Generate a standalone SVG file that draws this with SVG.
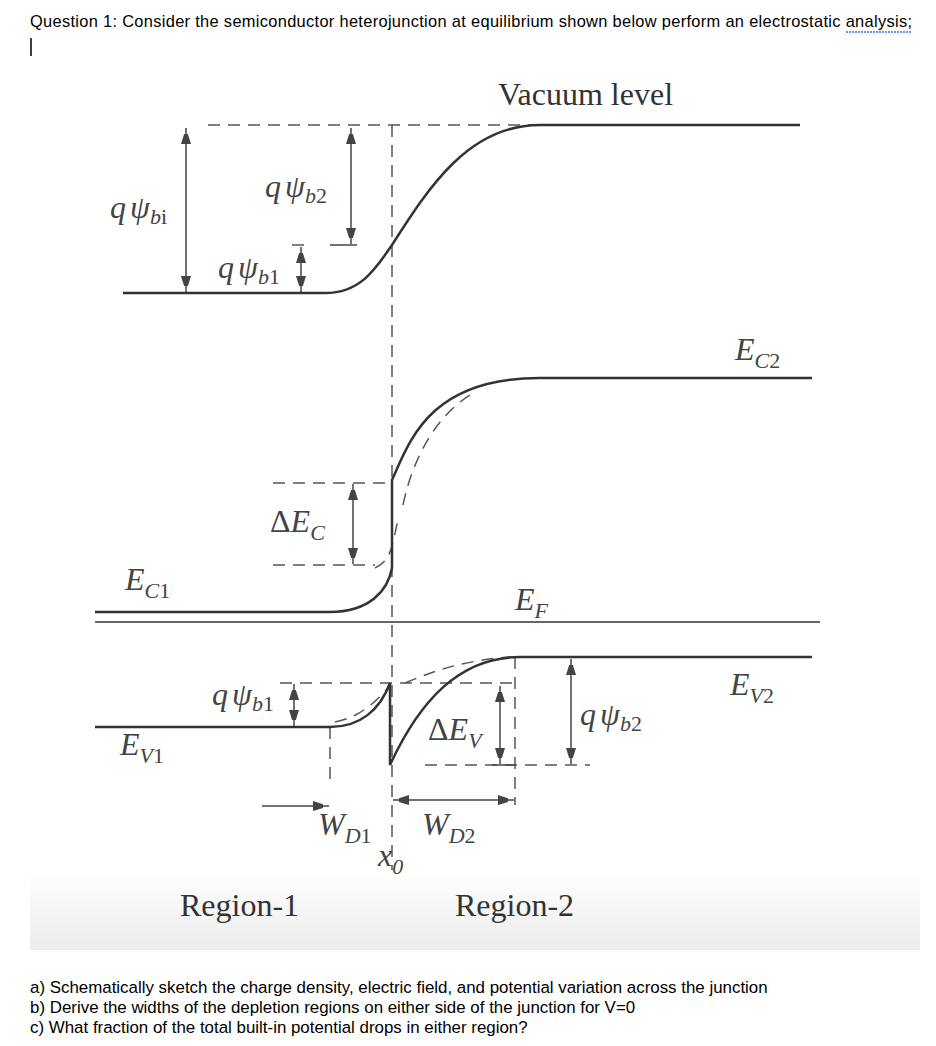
<svg xmlns="http://www.w3.org/2000/svg" width="936" height="1046" viewBox="0 0 936 1046">
<defs>
<marker id="ah" viewBox="0 0 10 16" refX="16" refY="5" markerWidth="10" markerHeight="16" orient="auto-start-reverse" markerUnits="userSpaceOnUse"><path d="M0,0 L16,5 L0,10 z" fill="#444"/></marker>
<linearGradient id="fade" x1="0" y1="0" x2="0" y2="1"><stop offset="0" stop-color="#fff"/><stop offset="1" stop-color="#ececec"/></linearGradient>
<style>
.band{fill:none;stroke:#333;stroke-width:2.5}
.dash{fill:none;stroke:#555;stroke-width:1.5;stroke-dasharray:12 8}
.arr{fill:none;stroke:#444;stroke-width:1.5}
.m{font-family:"Liberation Serif",serif;font-style:italic;fill:#444;font-size:32px}
.s{font-family:"Liberation Serif",serif;font-style:italic;fill:#444;font-size:22px}
.r{font-family:"Liberation Serif",serif;fill:#333;font-size:32px}
.q{font-family:"Liberation Sans",Arial,sans-serif;fill:#000;font-size:16.4px}
.b{font-family:"Liberation Sans",Arial,sans-serif;fill:#000;font-size:16.9px}
</style>
</defs>
<rect width="936" height="1046" fill="#fff"/>
<rect x="30" y="870" width="890" height="80" fill="url(#fade)"/>
<text class="q" x="30" y="27" textLength="882">Question 1: Consider the semiconductor heterojunction at equilibrium shown below perform an electrostatic analysis;</text>
<line x1="846" y1="32" x2="912" y2="32" stroke="#3b6fd8" stroke-width="1.5" stroke-dasharray="2 1"/>
<line x1="31" y1="38" x2="31" y2="56" stroke="#000" stroke-width="1.5"/>

<g id="guides">
<path class="dash" d="M392,125 V870"/>
<path class="dash" d="M208,125 H540"/>
<path class="dash" d="M292,245 H312"/>
<path class="dash" d="M273,483 H392 M273,565 H375"/>
<path class="dash" d="M280,683 H515 M425,765 H590"/>
<path class="dash" d="M330,727 V780 M515,657 V805"/>
<path class="dash" d="M375,568 C392,560 392,545 398,520 M403,505 C410,470 430,420 470,395" />
<path class="dash" d="M335,722 C355,718 370,708 386,690 M405,683 C440,668 470,660 510,657"/>
</g>

<g id="bands">
<path class="band" d="M123,293 H325 C360,293 375,270 392,245 C430,185 470,125 540,125 H800"/>
<path class="band" d="M95,612 H330 C370,612 388,590 392,568 V480 C410,440 430,378 540,378 H812"/>
<line x1="95" y1="622" x2="820" y2="622" stroke="#666" stroke-width="2"/>
<path class="band" d="M95,727 H330 C360,727 380,710 390,683 V765 C420,700 460,657 520,657 H812"/>
</g>

<g id="arrows">
<line class="arr" x1="186" y1="128" x2="186" y2="292" marker-start="url(#ah)" marker-end="url(#ah)"/>
<line class="arr" x1="351" y1="128" x2="351" y2="244" marker-start="url(#ah)" marker-end="url(#ah)"/>
<line class="arr" x1="330" y1="245" x2="357" y2="245"/>
<line class="arr" x1="301" y1="247" x2="301" y2="292" marker-start="url(#ah)" marker-end="url(#ah)"/>
<line class="arr" x1="353" y1="484" x2="353" y2="564" marker-start="url(#ah)" marker-end="url(#ah)"/>
<line class="arr" x1="294" y1="684" x2="294" y2="726" marker-start="url(#ah)" marker-end="url(#ah)"/>
<line class="arr" x1="500" y1="686" x2="500" y2="764" marker-start="url(#ah)" marker-end="url(#ah)"/>
<line class="arr" x1="492" y1="765" x2="515" y2="765"/>
<line class="arr" x1="571" y1="659" x2="571" y2="764" marker-start="url(#ah)" marker-end="url(#ah)"/>
<line class="arr" x1="262" y1="806" x2="329" y2="806" marker-end="url(#ah)"/>
<line class="arr" x1="393" y1="800" x2="514" y2="800" marker-start="url(#ah)" marker-end="url(#ah)"/>
</g>

<g id="labels">
<text class="r" x="498" y="105" font-size="36">Vacuum level</text>
<text class="m" x="110" y="218">q<tspan dx="4">ψ</tspan><tspan class="s" dy="6">b<tspan font-style="normal">i</tspan></tspan></text>
<text class="m" x="265" y="197">q<tspan dx="4">ψ</tspan><tspan class="s" dy="6">b<tspan font-style="normal">2</tspan></tspan></text>
<text class="m" x="218" y="278">q<tspan dx="4">ψ</tspan><tspan class="s" dy="6">b<tspan font-style="normal">1</tspan></tspan></text>
<text class="m" x="270" y="532"><tspan font-style="normal">Δ</tspan>E<tspan class="s" dy="8">C</tspan></text>
<text class="m" x="125" y="590">E<tspan class="s" dy="8">C<tspan font-style="normal">1</tspan></tspan></text>
<text class="m" x="515" y="610">E<tspan class="s" dy="8">F</tspan></text>
<text class="m" x="735" y="360">E<tspan class="s" dy="8">C<tspan font-style="normal">2</tspan></tspan></text>
<text class="m" x="212" y="705">q<tspan dx="4">ψ</tspan><tspan class="s" dy="6">b<tspan font-style="normal">1</tspan></tspan></text>
<text class="m" x="120" y="755">E<tspan class="s" dy="8">V<tspan font-style="normal">1</tspan></tspan></text>
<text class="m" x="428" y="740"><tspan font-style="normal">Δ</tspan>E<tspan class="s" dy="8">V</tspan></text>
<text class="m" x="580" y="725">q<tspan dx="4">ψ</tspan><tspan class="s" dy="6">b<tspan font-style="normal">2</tspan></tspan></text>
<text class="m" x="730" y="695">E<tspan class="s" dy="8">V<tspan font-style="normal">2</tspan></tspan></text>
<text class="m" x="318" y="835">W<tspan class="s" dy="8">D<tspan font-style="normal">1</tspan></tspan></text>
<text class="m" x="422" y="835">W<tspan class="s" dy="8">D<tspan font-style="normal">2</tspan></tspan></text>
<text class="m" x="378" y="866">x<tspan class="s" dy="8" font-style="normal">0</tspan></text>
<text class="r" x="180" y="916">Region-1</text>
<text class="r" x="455" y="916">Region-2</text>
</g>

<text class="b" x="30" y="993">a) Schematically sketch the charge density, electric field, and potential variation across the junction</text>
<text class="b" x="30" y="1013">b) Derive the widths of the depletion regions on either side of the junction for V=0</text>
<text class="b" x="30" y="1033">c) What fraction of the total built-in potential drops in either region?</text>
</svg>
